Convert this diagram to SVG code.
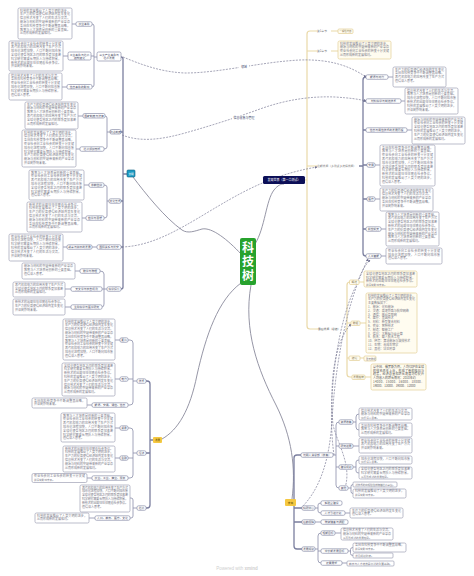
<svg xmlns="http://www.w3.org/2000/svg" width="474" height="576" viewBox="0 0 474 576">
<defs>
<style>
.c{fill:none;stroke:#8b8ea9;stroke-width:.8}
.cm{fill:none;stroke:#7b7f9f;stroke-width:1.3}
.cc{fill:none;stroke:#8a8a9c;stroke-width:.9}
.cb{fill:none;stroke:#ead9a8;stroke-width:1.2}
.xl{fill:none;stroke:#808099;stroke-width:.7;stroke-dasharray:2 1.2}
.bx{fill:#fff;stroke:#9fa1b4;stroke-width:.7}
.lb{fill:#fff;stroke:#8d90aa;stroke-width:.7}
.yb{fill:#fffcf0;stroke:#e3cf97;stroke-width:.7}
.t{font-family:"Noto Sans CJK SC","Noto Sans",sans-serif;font-size:3px;fill:#7a7a88}
.td{font-family:"Noto Sans CJK SC","Noto Sans",sans-serif;font-size:3px;fill:#555}
.lt{font-family:"Noto Sans CJK SC","Noto Sans",sans-serif;font-size:2.8px;fill:#4a4d66;text-anchor:middle}
.pt{font-family:"Noto Sans CJK SC","Noto Sans",sans-serif;font-size:2.8px;fill:#777}
.wt{font-family:"Noto Sans CJK SC","Noto Sans",sans-serif;fill:#fff;text-anchor:middle}
</style>
<marker id="ar" viewBox="0 0 6 6" refX="5" refY="3" markerWidth="4" markerHeight="4" orient="auto"><path d="M0,0 L6,3 L0,6 z" fill="#6f7090"/></marker>
</defs>
<rect width="474" height="576" fill="#fff"/>

<g id="connectors">
<path class="cc" d="M133,177 C145,193 165,218 182,230 C188,234 195,231 202,229 C212,227 228,240 241,254"/>
<path class="cc" d="M255,244 C265,228 266,200 274,190 C278,185 281,184 284,184"/>
<path class="cc" d="M241,283 C218,300 206,335 197,375 C190,410 178,430 162,439"/>
<path class="cc" d="M251,285 C243,330 258,370 276,405 C292,437 296,468 292,499"/>
<!-- left tree -->
<path class="cm" d="M121,57 Q123,57 123,59 V287 Q123,289 121,289 M121,132 H123 M121,201 H123 M121,247 H123 M123,174 H127"/>
<path class="c" d="M92,24 Q94,24 94,26 V85 Q94,87 92,87 M91,56 H94 M94,57 H97 M72,24 H76 M63,56 H68 M62,87 H67"/>
<path class="c" d="M105,116 Q107,116 107,118 V147 Q107,149 104,149 M107,132 H110 M78,116 H83 M76,149 H80"/>
<path class="c" d="M104,185 Q107,185 107,187 V216 Q107,218 104,218 M107,201 H109 M84,185 H89 M82,218 H86"/>
<path class="c" d="M92,247 H97 M63,247 H67"/>
<path class="c" d="M100,271 Q104,271 104,274 V304 Q104,307 102,307 M102,289 H107 M75,271 H80 M65,289 H71 M65,307 H71"/>
<!-- navy children (beige) -->
<path class="cb" d="M317,31 H310 Q307,31 307,34 V326 Q307,329 310,329 H318 M307,51 H317 M307,166 H317 M305,180 H307 M331,31 H338 M331,51 H338"/>
<path class="cb" d="M350,282 Q347,282 347,285 V374 Q347,377 350,377 H352 M347,323 H351 M347,358 H349 M345,329 H347 M359,282 H364 M360,323 H366 M360,358 H364 M365,377 H371"/>
<!-- right tree -->
<path class="cm" d="M366,77 Q363,77 363,80 V253 Q363,256 366,256 M363,101 H366 M363,130 H366 M363,165 H367 M363,199 H367 M363,229 H366 M359,166 H363"/>
<path class="c" d="M388,77 H393 M401,101 H405 M407,130 H412 M375,165 H380 M375,199 H380 M381,229 H386 M381,256 H386"/>
<!-- right yellow tree -->
<path class="cm" d="M301,455 H297 Q294,455 294,458 V546 Q294,549 297,549 H302 M294,508 H302 M294,522 H302"/>
<path class="c" d="M339,422 Q336,422 336,425 V485 Q336,488 339,488 M336,446 H339 M336,467 H339 M333,455 H336"/>
<path class="c" d="M353,422 H356 M359,414 Q356,414 356,417 V427 Q356,430 359,430 M353,446 H359 M353,467 H356 M359,460 Q356,460 356,462 V471 Q356,473 359,473 M348,488 H351 M353,484.5 Q351,484.5 351,486.5 V491.5 Q351,493.5 353,493.5"/>
<path class="c" d="M315,508 H318 M321,503 Q318,503 318,505 V511 Q318,513 321,513 M345,513 H350 M315,522 H321"/>
<path class="c" d="M315,549 H318 M321,533 Q318,533 318,536 V560 Q318,563 321,563 M318,551 H321 M335,533 H341 M348,551 H350.5 M353,547.5 Q350.5,547.5 350.5,549.5 V553.5 Q350.5,555.5 353,555.5 M342,563 H347"/>
<!-- left yellow tree -->
<path class="cm" d="M146,381 H147 Q150,381 150,384 V505 Q150,508 147,508 H146 M146,453 H150 M150,440 H153"/>
<path class="c" d="M137,381 H133 M128,340 H130 Q133,340 133,343 V402 Q133,405 130,405 H128 M128,379 H133 M115,340 H120 M115,379 H120 M87,405 H92"/>
<path class="c" d="M137,453 H133 M128,428 H130 Q133,428 133,431 V475 Q133,478 130,478 H128 M128,458 H133 M115,428 H120 M115,458 H120 M87,478 H92"/>
<path class="c" d="M137,508 H133 M130,498 H131 Q133,498 133,500 V516 Q133,518 131,518 H130 M89,518 H95"/>
<!-- relationship lines -->
<path class="xl" marker-end="url(#ar)" d="M123,57 C140,64 160,72 185,73 C220,73 260,62 300,60 C330,59 350,66 366,77"/>
<path class="xl" marker-end="url(#ar)" d="M122,135 C140,142 160,140 185,133 C210,126 235,118 260,109 C285,100 310,96 335,97 C350,98 358,99 366,101"/>
<path class="xl" marker-end="url(#ar)" d="M122,247 C150,246 175,232 205,214 C240,193 270,175 317,167"/>
<path class="xl" marker-end="url(#ar)" d="M303,506 C322,486 330,455 332,420 C335,370 345,305 368,259"/>
<path class="xl" marker-end="url(#ar)" d="M345,488 C352,465 338,445 333,425 C330,390 332,345 351,324"/>
<path class="xl" marker-end="url(#ar)" d="M334,455 C326,400 338,320 356,286 C360,275 364,266 370,260"/>
<rect x="239" y="64.5" width="10" height="4.5" fill="#fff"/>
<text class="lt" x="244" y="67.9" style="fill:#3c3f6a;font-size:3px">领域</text>
<rect x="232" y="115.5" width="24" height="4.5" fill="#fff"/>
<text class="lt" x="244" y="118.9" style="fill:#3c3f6a;font-size:3px">信息收集与管理</text>
</g>

<g id="center"><rect x="240" y="238" width="16" height="47" rx="2" fill="#27a22d"/>
<text x="248" y="241" writing-mode="tb" style="font-family:'Noto Sans CJK SC',sans-serif;font-size:12px;font-weight:bold;fill:#fff;letter-spacing:2px">科技树</text></g>
<g id="n-wenming"><rect x="127" y="170" width="8" height="7" rx="1" fill="#1e9cc4" stroke="#0b5f80" stroke-width=".6"/><text class="wt" x="131" y="174.6" style="font-size:2.6px">文明</text></g>
<g id="n-navy"><rect x="263" y="176" width="42" height="8" rx="1.5" fill="#0c0f57"/><text class="wt" x="284" y="181" style="font-size:3px">发现世界（第一章测试）</text></g>
<g id="n-yl"><rect x="153" y="437" width="9" height="6" rx="1" fill="#f5c842"/><text class="lt" x="157.5" y="441" style="fill:#5a4a00;font-size:2.6px">发展</text></g>
<g id="n-yr"><rect x="285" y="499" width="11" height="7" rx="1" fill="#f5c842"/><text class="lt" x="290.5" y="503.5" style="fill:#5a4a00;font-size:2.8px">未来</text></g>

<!-- left tree labels -->
<g id="n-p1"><rect class="lb" x="97" y="52" width="24" height="9" rx="1.5"/><text class="lt" x="109" y="55.8">三大产业革命与</text><text class="lt" x="109" y="59.3">社会发展</text></g>
<g id="n-c1a"><rect class="lb" x="76" y="21.8" width="16" height="4.5" rx="1.5"/><text class="lt" x="84" y="25">农业革命</text></g>
<g id="n-c1b"><rect class="lb" x="68" y="52" width="23" height="8" rx="1.5"/><text class="lt" x="79.5" y="55.5">工业革命与社会</text><text class="lt" x="79.5" y="58.9">结构变化</text></g>
<g id="n-c1c"><rect class="lb" x="67" y="84.5" width="25" height="4.5" rx="1.5"/><text class="lt" x="79.5" y="87.7">信息革命的影响</text></g>
<g id="n-p2"><rect class="lb" x="110" y="129.5" width="11" height="4.5" rx="1.5"/><text class="lt" x="115.5" y="132.7">政治制度</text></g>
<g id="n-c2a"><rect class="lb" x="83" y="113.5" width="22" height="4.5" rx="1.5"/><text class="lt" x="94" y="116.7">国家制度与法律</text></g>
<g id="n-c2b"><rect class="lb" x="80" y="146.8" width="24" height="4.5" rx="1.5"/><text class="lt" x="92" y="150">社会组织形式</text></g>
<g id="n-p3"><rect class="lb" x="109" y="198.8" width="12" height="4.5" rx="1.5"/><text class="lt" x="115" y="202">文化艺术</text></g>
<g id="n-c3a"><rect class="lb" x="89" y="182.8" width="15" height="4.5" rx="1.5"/><text class="lt" x="96.5" y="186">宗教信仰</text></g>
<g id="n-c3b"><rect class="lb" x="86" y="215.8" width="18" height="4.5" rx="1.5"/><text class="lt" x="95" y="219">哲学与思想</text></g>
<g id="n-p4"><rect class="lb" x="97" y="244.8" width="24" height="4.5" rx="1.5"/><text class="lt" x="109" y="248">国际关系与外交</text></g>
<g id="n-c4a"><rect class="lb" x="67" y="244.8" width="25" height="4.5" rx="1.5"/><text class="lt" x="79.5" y="248">战争与和平的发展</text></g>
<g id="n-p5"><rect class="lb" x="107" y="286.8" width="14" height="4.5" rx="1.5"/><text class="lt" x="114" y="290">科学探索</text></g>
<g id="n-c5a"><rect class="lb" x="80" y="268.8" width="20" height="4.5" rx="1.5"/><text class="lt" x="90" y="272">数学与物理</text></g>
<g id="n-c5b"><rect class="lb" x="71" y="286.8" width="31" height="4.5" rx="1.5"/><text class="lt" x="86.5" y="290">天文学与宇宙观测</text></g>
<g id="n-c5c"><rect class="lb" x="71" y="304.8" width="31" height="4.5" rx="1.5"/><text class="lt" x="86.5" y="308">生命科学与医学研究</text></g>

<!-- left tree boxes -->
<g id="b1a"><rect class="bx" x="18" y="8" width="54" height="31" rx="1.5"/>
<text class="t" x="20" y="11.6" textLength="50">科技的发展推动了人类文明的进步，</text><text class="t" x="20" y="15.4" textLength="50">生产力的提高使得经济结构发生变化</text><text class="t" x="20" y="19.2" textLength="50">信息技术改变了人们的生活与交流，</text><text class="t" x="20" y="23" textLength="50">能源与材料的突破带来新的产业革命</text><text class="t" x="20" y="26.8" textLength="50">各国在科技竞争中不断调整其战略，</text><text class="t" x="20" y="30.6" textLength="50">教育与人才培养是创新的重要基础。</text><text class="t" x="20" y="34.4">从而形成新的发展格局。</text></g>
<g id="b1b"><rect class="bx" x="9" y="41" width="54" height="30" rx="1.5"/>
<text class="t" x="11" y="44.6" textLength="50">农业社会向工业社会的转变十分关键</text><text class="t" x="11" y="48.4" textLength="50">蒸汽机和电力的应用改变了生产方式</text><text class="t" x="11" y="52.2" textLength="50">城市化进程加快，人口不断向城市集</text><text class="t" x="11" y="56" textLength="50">全球化使各地区之间的联系更加紧密</text><text class="t" x="11" y="59.8" textLength="50">科学研究需要长期投入与持续积累，</text><text class="t" x="11" y="63.6" textLength="50">新技术的出现往往伴随着社会争议。</text><text class="t" x="11" y="67.4">并深刻影响未来。</text></g>
<g id="b1c"><rect class="bx" x="9" y="73" width="53" height="27" rx="1.5"/>
<text class="t" x="11" y="76.6" textLength="49">信息技术改变了人们的生活与交流，</text><text class="t" x="11" y="80.4" textLength="49">各国在科技竞争中不断调整其战略，</text><text class="t" x="11" y="84.2" textLength="49">农业社会向工业社会的转变十分关键</text><text class="t" x="11" y="88" textLength="49">城市化进程加快，人口不断向城市集</text><text class="t" x="11" y="91.8" textLength="49">科学研究需要长期投入与持续积累，</text><text class="t" x="11" y="95.6">值得深入思考。</text></g>
<g id="b2a"><rect class="bx" x="25" y="102" width="53" height="27" rx="1.5"/>
<text class="t" x="27" y="105.6" textLength="49">生产力的提高使得经济结构发生变化</text><text class="t" x="27" y="109.4" textLength="49">能源与材料的突破带来新的产业革命</text><text class="t" x="27" y="113.2" textLength="49">教育与人才培养是创新的重要基础。</text><text class="t" x="27" y="117" textLength="49">蒸汽机和电力的应用改变了生产方式</text><text class="t" x="27" y="120.8" textLength="49">全球化使各地区之间的联系更加紧密</text><text class="t" x="27" y="124.6">从而形成新的发展格局。</text></g>
<g id="b2b"><rect class="bx" x="22" y="130" width="54" height="37" rx="1.5"/>
<text class="t" x="24" y="133.6" textLength="50">科技的发展推动了人类文明的进步，</text><text class="t" x="24" y="137.4" textLength="50">信息技术改变了人们的生活与交流，</text><text class="t" x="24" y="141.2" textLength="50">各国在科技竞争中不断调整其战略，</text><text class="t" x="24" y="145" textLength="50">农业社会向工业社会的转变十分关键</text><text class="t" x="24" y="148.8" textLength="50">城市化进程加快，人口不断向城市集</text><text class="t" x="24" y="152.6" textLength="50">科学研究需要长期投入与持续积累，</text><text class="t" x="24" y="156.4" textLength="50">生产力的提高使得经济结构发生变化</text><text class="t" x="24" y="160.2" textLength="50">能源与材料的突破带来新的产业革命</text><text class="t" x="24" y="164">并深刻影响未来。</text></g>
<g id="b3a"><rect class="bx" x="29" y="170" width="55" height="30" rx="1.5"/>
<text class="t" x="31" y="173.6" textLength="51">教育与人才培养是创新的重要基础。</text><text class="t" x="31" y="177.4" textLength="51">农业社会向工业社会的转变十分关键</text><text class="t" x="31" y="181.2" textLength="51">蒸汽机和电力的应用改变了生产方式</text><text class="t" x="31" y="185" textLength="51">城市化进程加快，人口不断向城市集</text><text class="t" x="31" y="188.8" textLength="51">全球化使各地区之间的联系更加紧密</text><text class="t" x="31" y="192.6" textLength="51">科学研究需要长期投入与持续积累，</text><text class="t" x="31" y="196.4">值得深入思考。</text></g>
<g id="b3b"><rect class="bx" x="27" y="202" width="55" height="30" rx="1.5"/>
<text class="t" x="29" y="205.6" textLength="51">新技术的出现往往伴随着社会争议。</text><text class="t" x="29" y="209.4" textLength="51">科技的发展推动了人类文明的进步，</text><text class="t" x="29" y="213.2" textLength="51">生产力的提高使得经济结构发生变化</text><text class="t" x="29" y="217" textLength="51">信息技术改变了人们的生活与交流，</text><text class="t" x="29" y="220.8" textLength="51">能源与材料的突破带来新的产业革命</text><text class="t" x="29" y="224.6" textLength="51">各国在科技竞争中不断调整其战略，</text><text class="t" x="29" y="228.4">从而形成新的发展格局。</text></g>
<g id="b4a"><rect class="bx" x="9" y="234" width="54" height="27" rx="1.5"/>
<text class="t" x="11" y="237.6" textLength="50">农业社会向工业社会的转变十分关键</text><text class="t" x="11" y="241.4" textLength="50">城市化进程加快，人口不断向城市集</text><text class="t" x="11" y="245.2" textLength="50">科学研究需要长期投入与持续积累，</text><text class="t" x="11" y="249" textLength="50">科技的发展推动了人类文明的进步，</text><text class="t" x="11" y="252.8" textLength="50">信息技术改变了人们的生活与交流，</text><text class="t" x="11" y="256.6">并深刻影响未来。</text></g>
<g id="b5a"><rect class="bx" x="22" y="263" width="53" height="16" rx="1.5"/>
<text class="t" x="24" y="267" textLength="49">能源与材料的突破带来新的产业革命</text><text class="t" x="24" y="271" textLength="49">教育与人才培养是创新的重要基础。</text><text class="t" x="24" y="275">值得深入思考。</text></g>
<g id="b5b"><rect class="bx" x="13" y="282" width="52" height="15" rx="1.5"/>
<text class="t" x="15" y="285.8" textLength="48">蒸汽机和电力的应用改变了生产方式</text><text class="t" x="15" y="289.6" textLength="48">全球化使各地区之间的联系更加紧密</text><text class="t" x="15" y="293.4">从而形成新的发展格局。</text></g>
<g id="b5c"><rect class="bx" x="13" y="299" width="52" height="16" rx="1.5"/>
<text class="t" x="15" y="303" textLength="48">新技术的出现往往伴随着社会争议。</text><text class="t" x="15" y="307" textLength="48">生产力的提高使得经济结构发生变化</text><text class="t" x="15" y="311">并深刻影响未来。</text></g>

<!-- navy children -->
<g id="n-ch1"><text class="pt" x="317" y="32">第1章节</text><rect class="yb" x="338" y="29" width="15" height="4.5" rx="1"/><text class="lt" x="345.5" y="32.2" style="font-size:2.4px;fill:#8a7a50">一般性内容</text></g>
<g id="n-ch2"><text class="pt" x="317" y="52">第2章节</text><rect class="yb" x="338" y="41" width="53" height="18" rx="1.5"/>
<text class="t" x="340" y="44.6" textLength="49">科技的发展推动了人类文明的进步，</text><text class="t" x="340" y="48.4" textLength="49">能源与材料的突破带来新的产业革命</text><text class="t" x="340" y="52.2" textLength="49">农业社会向工业社会的转变十分关键</text><text class="t" x="340" y="56">从而形成新的发展格局。</text></g>
<g id="n-news"><text class="pt" x="317" y="167">近期新闻（多测试多选择新闻）</text></g>
<g id="n-last"><text class="pt" x="318" y="330" style="fill:#555">最后新闻（总结）</text></g>

<!-- right tree -->
<g id="n-r1"><rect class="lb" x="366" y="74.8" width="22" height="4.5" rx="1.5"/><text class="lt" x="377" y="78">能源与动力</text>
<rect class="bx" x="393" y="67" width="53" height="20" rx="1.5"/>
<text class="t" x="395" y="70.6" textLength="49">生产力的提高使得经济结构发生变化</text><text class="t" x="395" y="74.4" textLength="49">各国在科技竞争中不断调整其战略，</text><text class="t" x="395" y="78.2" textLength="49">蒸汽机和电力的应用改变了生产方式</text><text class="t" x="395" y="82">值得深入思考。</text></g>
<g id="n-r2"><rect class="lb" x="366" y="98.8" width="35" height="4.5" rx="1.5"/><text class="lt" x="383.5" y="102">材料科学与制造技术</text>
<rect class="bx" x="405" y="88" width="53" height="26" rx="1.5"/>
<text class="t" x="407" y="91.6" textLength="49">信息技术改变了人们的生活与交流，</text><text class="t" x="407" y="95.4" textLength="49">教育与人才培养是创新的重要基础。</text><text class="t" x="407" y="99.2" textLength="49">城市化进程加快，人口不断向城市集</text><text class="t" x="407" y="103" textLength="49">新技术的出现往往伴随着社会争议。</text><text class="t" x="407" y="106.8" textLength="49">科技的发展推动了人类文明的进步，</text><text class="t" x="407" y="110.6">并深刻影响未来。</text></g>
<g id="n-r3"><rect class="lb" x="366" y="127.8" width="41" height="4.5" rx="1.5"/><text class="lt" x="386.5" y="131">信息与通信技术的发展历程</text>
<rect class="bx" x="412" y="117" width="53" height="27" rx="1.5"/>
<text class="t" x="414" y="120.6" textLength="49">能源与材料的突破带来新的产业革命</text><text class="t" x="414" y="124.4" textLength="49">农业社会向工业社会的转变十分关键</text><text class="t" x="414" y="128.2" textLength="49">全球化使各地区之间的联系更加紧密</text><text class="t" x="414" y="132" textLength="49">科技的发展推动了人类文明的进步，</text><text class="t" x="414" y="135.8" textLength="49">生产力的提高使得经济结构发生变化</text><text class="t" x="414" y="139.6">从而形成新的发展格局。</text></g>
<g id="n-r4"><rect class="lb" x="367" y="162.8" width="8" height="4.5" rx="1.5"/><text class="lt" x="371" y="166">交通</text>
<rect class="bx" x="380" y="145" width="55" height="41" rx="1.5"/>
<text class="t" x="382" y="148.6" textLength="51">各国在科技竞争中不断调整其战略，</text><text class="t" x="382" y="152.4" textLength="51">教育与人才培养是创新的重要基础。</text><text class="t" x="382" y="156.2" textLength="51">农业社会向工业社会的转变十分关键</text><text class="t" x="382" y="160" textLength="51">蒸汽机和电力的应用改变了生产方式</text><text class="t" x="382" y="163.8" textLength="51">城市化进程加快，人口不断向城市集</text><text class="t" x="382" y="167.6" textLength="51">全球化使各地区之间的联系更加紧密</text><text class="t" x="382" y="171.4" textLength="51">科学研究需要长期投入与持续积累，</text><text class="t" x="382" y="175.2" textLength="51">新技术的出现往往伴随着社会争议。</text><text class="t" x="382" y="179" textLength="51">科技的发展推动了人类文明的进步，</text><text class="t" x="382" y="182.8">值得深入思考。</text></g>
<g id="n-r5"><rect class="lb" x="367" y="196.8" width="8" height="4.5" rx="1.5"/><text class="lt" x="371" y="200">医疗</text>
<rect class="bx" x="380" y="188" width="53" height="23" rx="1.5"/>
<text class="t" x="382" y="191.6" textLength="49">生产力的提高使得经济结构发生变化</text><text class="t" x="382" y="195.4" textLength="49">信息技术改变了人们的生活与交流，</text><text class="t" x="382" y="199.2" textLength="49">能源与材料的突破带来新的产业革命</text><text class="t" x="382" y="203" textLength="49">各国在科技竞争中不断调整其战略，</text><text class="t" x="382" y="206.8">并深刻影响未来。</text></g>
<g id="n-r6"><rect class="lb" x="366" y="226.8" width="15" height="4.5" rx="1.5"/><text class="lt" x="373.5" y="230">航空航天</text>
<rect class="bx" x="386" y="212" width="53" height="34" rx="1.5"/>
<text class="t" x="388" y="215.6" textLength="49">教育与人才培养是创新的重要基础。</text><text class="t" x="388" y="219.4" textLength="49">蒸汽机和电力的应用改变了生产方式</text><text class="t" x="388" y="223.2" textLength="49">全球化使各地区之间的联系更加紧密</text><text class="t" x="388" y="227" textLength="49">新技术的出现往往伴随着社会争议。</text><text class="t" x="388" y="230.8" textLength="49">生产力的提高使得经济结构发生变化</text><text class="t" x="388" y="234.6" textLength="49">能源与材料的突破带来新的产业革命</text><text class="t" x="388" y="238.4" textLength="49">教育与人才培养是创新的重要基础。</text><text class="t" x="388" y="242.2">从而形成新的发展格局。</text></g>
<g id="n-r7"><rect class="lb" x="366" y="253.8" width="15" height="4.5" rx="1.5"/><text class="lt" x="373.5" y="257">人工智能</text>
<rect class="bx" x="386" y="248" width="56" height="16" rx="1.5"/>
<text class="t" x="388" y="251.8" textLength="52">农业社会向工业社会的转变十分关键</text><text class="t" x="388" y="255.6" textLength="52">城市化进程加快，人口不断向城市集</text><text class="t" x="388" y="259.4">值得深入思考。</text></g>

<!-- last news children -->
<g id="n-f1"><rect class="yb" x="349.5" y="280" width="9.5" height="4.5" rx="1"/><text class="lt" x="354.2" y="283.2" style="fill:#8a7a50">概述</text>
<rect class="yb" x="364" y="271" width="53" height="16" rx="1.5"/>
<text class="t" x="366" y="274.8" textLength="49">全球化使各地区之间的联系更加紧密</text><text class="t" x="366" y="278.6" textLength="49">科学研究需要长期投入与持续积累，</text><text class="t" x="366" y="282.4" textLength="49">新技术的出现往往伴随着社会争议。</text><text class="t" x="366" y="286.2" style="font-size:2.6px">并深刻影响未来。</text></g>
<g id="n-f2"><rect class="yb" x="351" y="321" width="9" height="4.5" rx="1"/><text class="lt" x="355.5" y="324.2" style="fill:#8a7a50">数据</text>
<rect class="yb" x="366" y="293" width="51" height="60" rx="1.5"/>
<text class="t" x="368" y="296.6" textLength="47">科技的发展推动了人类文明的进步，</text><text class="t" x="368" y="300.4" textLength="47">生产力的提高使得经济结构发生变化</text><text class="t" x="368" y="304.2">主要数据如下：</text><text class="t" x="368" y="308">1、能源：化石能源</text><text class="t" x="368" y="311.8">2、交通：高速铁路与航空网络</text><text class="t" x="368" y="315.6">3、通信：移动互联网</text><text class="t" x="368" y="319.4">4、医疗：基因技术</text><text class="t" x="368" y="323.2">5、材料：新型复合材料</text><text class="t" x="368" y="327">6、农业：育种技术</text><text class="t" x="368" y="330.8">7、制造：智能工厂</text><text class="t" x="368" y="334.6">8、信息：大数据与云计算</text><text class="t" x="368" y="338.4">9、航天：载人航天工程</text><text class="t" x="368" y="342.2">10、环境：清洁能源与减排技术</text><text class="t" x="368" y="346">11、生物：合成生物学</text><text class="t" x="368" y="349.8">12、其他：详见附录</text></g>
<g id="n-f3"><rect class="yb" x="349" y="356" width="11" height="4.5" rx="1"/><text class="lt" x="354.5" y="359.2" style="fill:#8a7a50">结论</text>
<rect class="yb" x="364" y="356" width="12" height="5" rx="1"/><text class="t" x="366" y="359.6" style="font-size:2.5px">暂无数据</text></g>
<g id="n-f4"><rect class="yb" x="352" y="375" width="13" height="4.5" rx="1"/><text class="lt" x="358.5" y="378.2" style="fill:#8a7a50">发展趋势</text>
<rect class="yb" x="371" y="364" width="55" height="26" rx="1.5"/>
<text class="td" x="373" y="367.8" textLength="51">以中国、俄罗斯为例，人均GDP在全球</text><text class="td" x="373" y="371.6" textLength="51">的排名逐年上升，形成了新的格局与</text><text class="td" x="373" y="375.4" textLength="51">趋势，经济总量和增长速度均有提升</text><text class="td" x="373" y="379.2">人均收入的增长情况：2010年约</text><text class="td" x="373" y="383" textLength="51">14000、15000、16000、18000、</text><text class="td" x="373" y="386.8">19000、13000、19000、12000</text></g>

<!-- right yellow tree -->
<g id="n-y1"><rect class="lb" x="301" y="452.8" width="32" height="4.5" rx="1.5"/><text class="lt" x="317" y="456">光明人类总部（收集）</text></g>
<g id="n-y1a"><rect class="lb" x="339" y="419.8" width="14" height="4.5" rx="1.5"/><text class="lt" x="346" y="423">资源收集</text>
<rect class="bx" x="359" y="408" width="53" height="12" rx="1.5"/>
<text class="t" x="361" y="411.6" textLength="49">信息技术改变了人们的生活与交流，</text><text class="t" x="361" y="415.2" textLength="49">能源与材料的突破带来新的产业革命</text><text class="t" x="361" y="418.8" style="font-size:2.6px">值得深入思考。</text>
<rect class="bx" x="359" y="423" width="53" height="14" rx="1.5"/>
<text class="t" x="361" y="426.6" textLength="49">各国在科技竞争中不断调整其战略，</text><text class="t" x="361" y="430.4" textLength="49">教育与人才培养是创新的重要基础。</text><text class="t" x="361" y="434.2">从而形成新的发展格局。</text></g>
<g id="n-y1b"><rect class="lb" x="339" y="443.8" width="14" height="4.5" rx="1.5"/><text class="lt" x="346" y="447">研究进展</text>
<rect class="bx" x="359" y="438" width="53" height="15" rx="1.5"/>
<text class="t" x="361" y="441.6" textLength="49">农业社会向工业社会的转变十分关键</text><text class="t" x="361" y="445.4" textLength="49">蒸汽机和电力的应用改变了生产方式</text><text class="t" x="361" y="449.2">并深刻影响未来。</text></g>
<g id="n-y1c"><rect class="lb" x="339" y="464.8" width="14" height="4.5" rx="1.5"/><text class="lt" x="346" y="468">建设规划</text>
<rect class="bx" x="359" y="456" width="53" height="8" rx="1.5"/>
<text class="t" x="361" y="459.5" textLength="49">城市化进程加快，人口不断向城市集</text><text class="t" x="361" y="462.9" style="font-size:2.6px">值得深入思考。</text>
<rect class="bx" x="359" y="467" width="53" height="12" rx="1.5"/>
<text class="t" x="361" y="470.4" textLength="49">全球化使各地区之间的联系更加紧密</text><text class="t" x="361" y="474" textLength="49">科学研究需要长期投入与持续积累，</text><text class="t" x="361" y="477.6" style="font-size:2.6px">从而形成新的发展格局。</text></g>
<g id="n-y1d"><rect class="lb" x="339" y="485.8" width="9" height="4.5" rx="1.5"/><text class="lt" x="343.5" y="489">其他</text>
<rect class="bx" x="353" y="482" width="44" height="5" rx="1"/><text class="t" x="355" y="485.6" textLength="40" style="font-size:2.7px">新技术的出现往往伴随着社会争议。</text>
<rect class="bx" x="353" y="489" width="53" height="9" rx="1.5"/>
<text class="t" x="355" y="492.4" textLength="49">科技的发展推动了人类文明的进步，</text><text class="t" x="355" y="496" style="font-size:2.6px">并深刻影响未来。</text></g>
<g id="n-y2"><rect class="lb" x="302" y="505.8" width="13" height="4.5" rx="1.5"/><text class="lt" x="308.5" y="509">科研中心</text></g>
<g id="n-y2a"><rect class="lb" x="321" y="500.8" width="21" height="4.5" rx="1.5"/><text class="lt" x="331.5" y="504">实验室建设</text></g>
<g id="n-y2b"><rect class="lb" x="321" y="510.8" width="24" height="4.5" rx="1.5"/><text class="lt" x="333" y="514">人才引进计划</text>
<rect class="bx" x="350" y="508" width="53" height="10" rx="1.5"/>
<text class="t" x="352" y="511.6" textLength="49">生产力的提高使得经济结构发生变化</text><text class="t" x="352" y="515.4">值得深入思考。</text></g>
<g id="n-y3"><rect class="lb" x="302" y="519.8" width="13" height="4.5" rx="1.5"/><text class="lt" x="308.5" y="523">后勤保障</text></g>
<g id="n-y3a"><rect class="lb" x="321" y="519.8" width="27" height="4.5" rx="1.5"/><text class="lt" x="334.5" y="523">物资储备与调配</text></g>
<g id="n-y4"><rect class="lb" x="302" y="546.8" width="13" height="4.5" rx="1.5"/><text class="lt" x="308.5" y="550">发展规划</text></g>
<g id="n-y4a"><rect class="lb" x="321" y="530.8" width="14" height="4.5" rx="1.5"/><text class="lt" x="328" y="534">短期目标</text>
<rect class="bx" x="341" y="528" width="52" height="12" rx="1.5"/>
<text class="t" x="343" y="531.4" textLength="48">信息技术改变了人们的生活与交流，</text><text class="t" x="343" y="535" textLength="48">能源与材料的突破带来新的产业革命</text><text class="t" x="343" y="538.6" style="font-size:2.6px">从而形成新的发展格局。</text></g>
<g id="n-y4b"><rect class="lb" x="321" y="548.8" width="27" height="4.5" rx="1.5"/><text class="lt" x="334.5" y="552">中长期发展目标</text>
<rect class="bx" x="353" y="543" width="53" height="9" rx="1.5"/>
<text class="t" x="355" y="546.4" textLength="49">各国在科技竞争中不断调整其战略，</text><text class="t" x="355" y="550" style="font-size:2.6px">并深刻影响未来。</text>
<rect class="bx" x="353" y="553" width="40" height="5" rx="1"/><text class="t" x="355" y="556.6" style="font-size:2.7px">详见规划附表。</text></g>
<g id="n-y4c"><rect class="lb" x="321" y="560.8" width="21" height="4.5" rx="1.5"/><text class="lt" x="331.5" y="564">远景展望</text>
<rect class="bx" x="347" y="561" width="47" height="5" rx="1"/><text class="t" x="349" y="564.6" textLength="43" style="font-size:2.7px">教育与人才培养是创新的重要基础。</text></g>

<!-- left yellow tree -->
<g id="n-g1"><rect class="lb" x="137" y="378.8" width="9" height="4.5" rx="1.5"/><text class="lt" x="141.5" y="382">技术</text></g>
<g id="n-g1a"><rect class="lb" x="120" y="337.8" width="8" height="4.5" rx="1.5"/><text class="lt" x="124" y="341">蒸汽</text>
<rect class="bx" x="63" y="319" width="52" height="41" rx="1.5"/>
<text class="t" x="65" y="322.6" textLength="48">科技的发展推动了人类文明的进步，</text><text class="t" x="65" y="326.4" textLength="48">生产力的提高使得经济结构发生变化</text><text class="t" x="65" y="330.2" textLength="48">信息技术改变了人们的生活与交流，</text><text class="t" x="65" y="334" textLength="48">能源与材料的突破带来新的产业革命</text><text class="t" x="65" y="337.8" textLength="48">各国在科技竞争中不断调整其战略，</text><text class="t" x="65" y="341.6" textLength="48">教育与人才培养是创新的重要基础。</text><text class="t" x="65" y="345.4" textLength="48">农业社会向工业社会的转变十分关键</text><text class="t" x="65" y="349.2" textLength="48">蒸汽机和电力的应用改变了生产方式</text><text class="t" x="65" y="353" textLength="48">城市化进程加快，人口不断向城市集</text><text class="t" x="65" y="356.8">值得深入思考。</text></g>
<g id="n-g1b"><rect class="lb" x="120" y="376.8" width="8" height="4.5" rx="1.5"/><text class="lt" x="124" y="380">电力</text>
<rect class="bx" x="62" y="363" width="53" height="33" rx="1.5"/>
<text class="t" x="64" y="366.6" textLength="49">全球化使各地区之间的联系更加紧密</text><text class="t" x="64" y="370.4" textLength="49">科学研究需要长期投入与持续积累，</text><text class="t" x="64" y="374.2" textLength="49">新技术的出现往往伴随着社会争议。</text><text class="t" x="64" y="378" textLength="49">科技的发展推动了人类文明的进步，</text><text class="t" x="64" y="381.8" textLength="49">生产力的提高使得经济结构发生变化</text><text class="t" x="64" y="385.6" textLength="49">信息技术改变了人们的生活与交流，</text><text class="t" x="64" y="389.4" textLength="49">能源与材料的突破带来新的产业革命</text><text class="t" x="64" y="393.2">从而形成新的发展格局。</text></g>
<g id="n-g1c"><rect class="lb" x="92" y="402.8" width="36" height="4.5" rx="1.5"/><text class="lt" x="110" y="406">能源、交通、通信、信息</text>
<rect class="bx" x="32" y="398" width="55" height="10" rx="1.5"/>
<text class="t" x="34" y="401.6" textLength="51">各国在科技竞争中不断调整其战略，</text><text class="t" x="34" y="405.4">并深刻影响未来。</text></g>
<g id="n-g2"><rect class="lb" x="137" y="450.8" width="9" height="4.5" rx="1.5"/><text class="lt" x="141.5" y="454">经济</text></g>
<g id="n-g2a"><rect class="lb" x="120" y="425.8" width="8" height="4.5" rx="1.5"/><text class="lt" x="124" y="429">贸易</text>
<rect class="bx" x="61" y="413" width="54" height="29" rx="1.5"/>
<text class="t" x="63" y="416.6" textLength="50">教育与人才培养是创新的重要基础。</text><text class="t" x="63" y="420.4" textLength="50">农业社会向工业社会的转变十分关键</text><text class="t" x="63" y="424.2" textLength="50">蒸汽机和电力的应用改变了生产方式</text><text class="t" x="63" y="428" textLength="50">城市化进程加快，人口不断向城市集</text><text class="t" x="63" y="431.8" textLength="50">全球化使各地区之间的联系更加紧密</text><text class="t" x="63" y="435.6" textLength="50">科学研究需要长期投入与持续积累，</text><text class="t" x="63" y="439.4">值得深入思考。</text></g>
<g id="n-g2b"><rect class="lb" x="120" y="455.8" width="8" height="4.5" rx="1.5"/><text class="lt" x="124" y="459">金融</text>
<rect class="bx" x="63" y="446" width="52" height="26" rx="1.5"/>
<text class="t" x="65" y="449.6" textLength="48">新技术的出现往往伴随着社会争议。</text><text class="t" x="65" y="453.4" textLength="48">科技的发展推动了人类文明的进步，</text><text class="t" x="65" y="457.2" textLength="48">生产力的提高使得经济结构发生变化</text><text class="t" x="65" y="461" textLength="48">信息技术改变了人们的生活与交流，</text><text class="t" x="65" y="464.8" textLength="48">能源与材料的突破带来新的产业革命</text><text class="t" x="65" y="468.6">从而形成新的发展格局。</text></g>
<g id="n-g2c"><rect class="lb" x="92" y="475.8" width="36" height="4.5" rx="1.5"/><text class="lt" x="110" y="479">农业、工业、商业、服务</text>
<rect class="bx" x="32" y="473.5" width="55" height="9" rx="1.5"/>
<text class="t" x="34" y="477" textLength="51">农业社会向工业社会的转变十分关键</text><text class="t" x="34" y="480.6" style="font-size:2.6px">并深刻影响未来。</text></g>
<g id="n-g3"><rect class="lb" x="137" y="505.8" width="9" height="4.5" rx="1.5"/><text class="lt" x="141.5" y="509">社会</text></g>
<g id="n-g3a"><rect class="bx" x="80" y="485" width="50" height="27" rx="1.5"/>
<text class="t" x="82" y="488.6" textLength="46">蒸汽机和电力的应用改变了生产方式</text><text class="t" x="82" y="492.4" textLength="46">城市化进程加快，人口不断向城市集</text><text class="t" x="82" y="496.2" textLength="46">全球化使各地区之间的联系更加紧密</text><text class="t" x="82" y="500" textLength="46">科学研究需要长期投入与持续积累，</text><text class="t" x="82" y="503.8" textLength="46">新技术的出现往往伴随着社会争议。</text><text class="t" x="82" y="507.6">值得深入思考。</text></g>
<g id="n-g3b"><rect class="lb" x="95" y="515.8" width="35" height="4.5" rx="1.5"/><text class="lt" x="112.5" y="519">人口、教育、医疗、文化</text>
<rect class="bx" x="35" y="513" width="54" height="10" rx="1.5"/>
<text class="t" x="37" y="516.6" textLength="50">科技的发展推动了人类文明的进步，</text><text class="t" x="37" y="520.4">从而形成新的发展格局。</text></g>

<text x="237" y="569.5" text-anchor="middle" style="font-family:'Liberation Sans',sans-serif;font-size:4.5px;fill:#cfcfcf">Powered with <tspan font-weight="bold">xmind</tspan></text>
</svg>
